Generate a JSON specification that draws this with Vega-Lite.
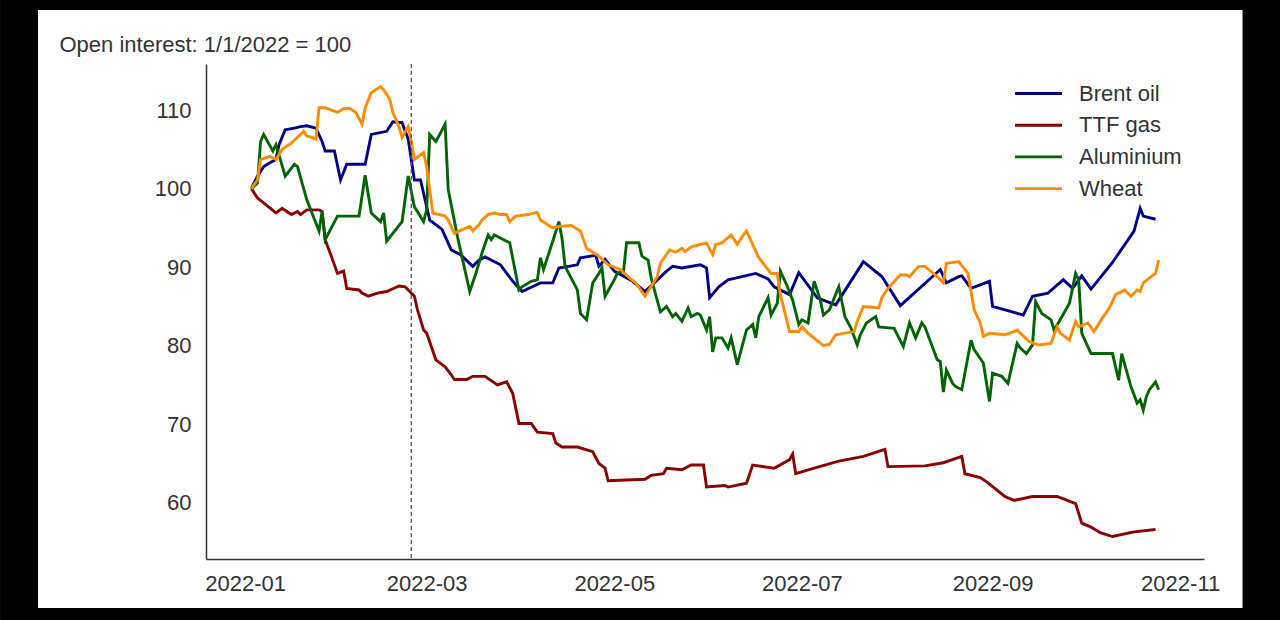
{
  "$schema": "https://vega.github.io/schema/vega-lite/v6.json",
  "width": 998,
  "height": 495,
  "autosize": {"type": "none"},
  "padding": {"left": 206, "top": 64, "right": 76, "bottom": 61},
  "background": "white",
  "config": {
    "view": {"stroke": null},
    "axis": {"grid": false, "ticks": false, "tickSize": 0, "domainColor": "#333333", "domainWidth": 1.5, "labelFont": "Liberation Sans", "labelFontSize": 22, "labelColor": "#333333", "titleFont": "Liberation Sans", "titleFontSize": 22, "titleColor": "#333333", "titleFontWeight": "normal"},
    "legend": {"labelFont": "Liberation Sans", "labelFontSize": 22, "labelColor": "#333333"}
  },
  "layer": [
    {
      "data": {"values": [
        {"date": "2022-01-03", "series": "Brent oil", "value": 100},
        {"date": "2022-01-05", "series": "Brent oil", "value": 101.6},
        {"date": "2022-01-07", "series": "Brent oil", "value": 102.8},
        {"date": "2022-01-09", "series": "Brent oil", "value": 103.3},
        {"date": "2022-01-11", "series": "Brent oil", "value": 103.7},
        {"date": "2022-01-12", "series": "Brent oil", "value": 105.6},
        {"date": "2022-01-14", "series": "Brent oil", "value": 107.5},
        {"date": "2022-01-17", "series": "Brent oil", "value": 107.7},
        {"date": "2022-01-19", "series": "Brent oil", "value": 107.9},
        {"date": "2022-01-21", "series": "Brent oil", "value": 108.0},
        {"date": "2022-01-24", "series": "Brent oil", "value": 107.7},
        {"date": "2022-01-26", "series": "Brent oil", "value": 106.0},
        {"date": "2022-01-27", "series": "Brent oil", "value": 104.8},
        {"date": "2022-01-30", "series": "Brent oil", "value": 104.8},
        {"date": "2022-02-01", "series": "Brent oil", "value": 101.1},
        {"date": "2022-02-03", "series": "Brent oil", "value": 103.1},
        {"date": "2022-02-06", "series": "Brent oil", "value": 103.1},
        {"date": "2022-02-09", "series": "Brent oil", "value": 103.1},
        {"date": "2022-02-11", "series": "Brent oil", "value": 106.9},
        {"date": "2022-02-16", "series": "Brent oil", "value": 107.3},
        {"date": "2022-02-18", "series": "Brent oil", "value": 108.5},
        {"date": "2022-02-21", "series": "Brent oil", "value": 108.4},
        {"date": "2022-02-23", "series": "Brent oil", "value": 106.3},
        {"date": "2022-02-24", "series": "Brent oil", "value": 103.7},
        {"date": "2022-02-25", "series": "Brent oil", "value": 101.1},
        {"date": "2022-02-27", "series": "Brent oil", "value": 101.1},
        {"date": "2022-03-02", "series": "Brent oil", "value": 96.0},
        {"date": "2022-03-06", "series": "Brent oil", "value": 94.8},
        {"date": "2022-03-09", "series": "Brent oil", "value": 92.2},
        {"date": "2022-03-12", "series": "Brent oil", "value": 91.6},
        {"date": "2022-03-16", "series": "Brent oil", "value": 90.1},
        {"date": "2022-03-18", "series": "Brent oil", "value": 90.9},
        {"date": "2022-03-20", "series": "Brent oil", "value": 91.3},
        {"date": "2022-03-25", "series": "Brent oil", "value": 90.3},
        {"date": "2022-03-29", "series": "Brent oil", "value": 88.2},
        {"date": "2022-04-01", "series": "Brent oil", "value": 86.9},
        {"date": "2022-04-07", "series": "Brent oil", "value": 88.0},
        {"date": "2022-04-11", "series": "Brent oil", "value": 88.0},
        {"date": "2022-04-13", "series": "Brent oil", "value": 89.9},
        {"date": "2022-04-19", "series": "Brent oil", "value": 90.3},
        {"date": "2022-04-20", "series": "Brent oil", "value": 91.2},
        {"date": "2022-04-25", "series": "Brent oil", "value": 91.5},
        {"date": "2022-04-26", "series": "Brent oil", "value": 90.1},
        {"date": "2022-04-28", "series": "Brent oil", "value": 91.0},
        {"date": "2022-05-01", "series": "Brent oil", "value": 89.5},
        {"date": "2022-05-07", "series": "Brent oil", "value": 88.2},
        {"date": "2022-05-11", "series": "Brent oil", "value": 86.9},
        {"date": "2022-05-18", "series": "Brent oil", "value": 89.5},
        {"date": "2022-05-20", "series": "Brent oil", "value": 90.1},
        {"date": "2022-05-23", "series": "Brent oil", "value": 89.9},
        {"date": "2022-05-29", "series": "Brent oil", "value": 90.3},
        {"date": "2022-05-31", "series": "Brent oil", "value": 89.9},
        {"date": "2022-06-01", "series": "Brent oil", "value": 86.1},
        {"date": "2022-06-04", "series": "Brent oil", "value": 87.5},
        {"date": "2022-06-07", "series": "Brent oil", "value": 88.4},
        {"date": "2022-06-16", "series": "Brent oil", "value": 89.2},
        {"date": "2022-06-20", "series": "Brent oil", "value": 88.5},
        {"date": "2022-06-22", "series": "Brent oil", "value": 87.5},
        {"date": "2022-06-27", "series": "Brent oil", "value": 86.5},
        {"date": "2022-06-30", "series": "Brent oil", "value": 89.3},
        {"date": "2022-07-06", "series": "Brent oil", "value": 86.1},
        {"date": "2022-07-12", "series": "Brent oil", "value": 85.2},
        {"date": "2022-07-21", "series": "Brent oil", "value": 90.7},
        {"date": "2022-07-27", "series": "Brent oil", "value": 88.8},
        {"date": "2022-08-02", "series": "Brent oil", "value": 85.1},
        {"date": "2022-08-15", "series": "Brent oil", "value": 89.7},
        {"date": "2022-08-17", "series": "Brent oil", "value": 88.0},
        {"date": "2022-08-21", "series": "Brent oil", "value": 88.8},
        {"date": "2022-08-22", "series": "Brent oil", "value": 88.9},
        {"date": "2022-08-25", "series": "Brent oil", "value": 87.3},
        {"date": "2022-08-31", "series": "Brent oil", "value": 88.2},
        {"date": "2022-09-01", "series": "Brent oil", "value": 85.0},
        {"date": "2022-09-11", "series": "Brent oil", "value": 83.9},
        {"date": "2022-09-14", "series": "Brent oil", "value": 86.3},
        {"date": "2022-09-19", "series": "Brent oil", "value": 86.7},
        {"date": "2022-09-24", "series": "Brent oil", "value": 88.4},
        {"date": "2022-09-27", "series": "Brent oil", "value": 87.3},
        {"date": "2022-09-30", "series": "Brent oil", "value": 88.9},
        {"date": "2022-10-03", "series": "Brent oil", "value": 87.2},
        {"date": "2022-10-10", "series": "Brent oil", "value": 90.6},
        {"date": "2022-10-17", "series": "Brent oil", "value": 94.6},
        {"date": "2022-10-19", "series": "Brent oil", "value": 97.5},
        {"date": "2022-10-20", "series": "Brent oil", "value": 96.5},
        {"date": "2022-10-24", "series": "Brent oil", "value": 96.1},

        {"date": "2022-01-03", "series": "TTF gas", "value": 100},
        {"date": "2022-01-05", "series": "TTF gas", "value": 98.8},
        {"date": "2022-01-07", "series": "TTF gas", "value": 98.2},
        {"date": "2022-01-11", "series": "TTF gas", "value": 96.9},
        {"date": "2022-01-13", "series": "TTF gas", "value": 97.5},
        {"date": "2022-01-16", "series": "TTF gas", "value": 96.7},
        {"date": "2022-01-18", "series": "TTF gas", "value": 97.1},
        {"date": "2022-01-19", "series": "TTF gas", "value": 96.7},
        {"date": "2022-01-21", "series": "TTF gas", "value": 97.3},
        {"date": "2022-01-25", "series": "TTF gas", "value": 97.3},
        {"date": "2022-01-26", "series": "TTF gas", "value": 97.1},
        {"date": "2022-01-27", "series": "TTF gas", "value": 93.5},
        {"date": "2022-01-29", "series": "TTF gas", "value": 91.4},
        {"date": "2022-01-31", "series": "TTF gas", "value": 89.2},
        {"date": "2022-02-02", "series": "TTF gas", "value": 89.5},
        {"date": "2022-02-03", "series": "TTF gas", "value": 87.3},
        {"date": "2022-02-07", "series": "TTF gas", "value": 87.1},
        {"date": "2022-02-08", "series": "TTF gas", "value": 86.7},
        {"date": "2022-02-10", "series": "TTF gas", "value": 86.3},
        {"date": "2022-02-13", "series": "TTF gas", "value": 86.7},
        {"date": "2022-02-16", "series": "TTF gas", "value": 86.9},
        {"date": "2022-02-20", "series": "TTF gas", "value": 87.6},
        {"date": "2022-02-22", "series": "TTF gas", "value": 87.5},
        {"date": "2022-02-23", "series": "TTF gas", "value": 87.1},
        {"date": "2022-02-25", "series": "TTF gas", "value": 86.3},
        {"date": "2022-02-26", "series": "TTF gas", "value": 84.6},
        {"date": "2022-02-28", "series": "TTF gas", "value": 82.0},
        {"date": "2022-03-01", "series": "TTF gas", "value": 81.6},
        {"date": "2022-03-04", "series": "TTF gas", "value": 78.2},
        {"date": "2022-03-07", "series": "TTF gas", "value": 77.3},
        {"date": "2022-03-09", "series": "TTF gas", "value": 76.3},
        {"date": "2022-03-10", "series": "TTF gas", "value": 75.7},
        {"date": "2022-03-14", "series": "TTF gas", "value": 75.7},
        {"date": "2022-03-16", "series": "TTF gas", "value": 76.1},
        {"date": "2022-03-20", "series": "TTF gas", "value": 76.1},
        {"date": "2022-03-24", "series": "TTF gas", "value": 75.0},
        {"date": "2022-03-27", "series": "TTF gas", "value": 75.4},
        {"date": "2022-03-29", "series": "TTF gas", "value": 73.9},
        {"date": "2022-03-31", "series": "TTF gas", "value": 70.1},
        {"date": "2022-04-04", "series": "TTF gas", "value": 70.1},
        {"date": "2022-04-06", "series": "TTF gas", "value": 69.0},
        {"date": "2022-04-11", "series": "TTF gas", "value": 68.8},
        {"date": "2022-04-12", "series": "TTF gas", "value": 67.6},
        {"date": "2022-04-14", "series": "TTF gas", "value": 67.1},
        {"date": "2022-04-19", "series": "TTF gas", "value": 67.1},
        {"date": "2022-04-24", "series": "TTF gas", "value": 66.5},
        {"date": "2022-04-26", "series": "TTF gas", "value": 65.0},
        {"date": "2022-04-28", "series": "TTF gas", "value": 64.4},
        {"date": "2022-04-29", "series": "TTF gas", "value": 62.8},
        {"date": "2022-05-11", "series": "TTF gas", "value": 63.0},
        {"date": "2022-05-13", "series": "TTF gas", "value": 63.5},
        {"date": "2022-05-17", "series": "TTF gas", "value": 63.7},
        {"date": "2022-05-18", "series": "TTF gas", "value": 64.4},
        {"date": "2022-05-23", "series": "TTF gas", "value": 64.2},
        {"date": "2022-05-26", "series": "TTF gas", "value": 64.8},
        {"date": "2022-05-30", "series": "TTF gas", "value": 64.8},
        {"date": "2022-05-31", "series": "TTF gas", "value": 62.0},
        {"date": "2022-06-06", "series": "TTF gas", "value": 62.2},
        {"date": "2022-06-07", "series": "TTF gas", "value": 62.0},
        {"date": "2022-06-13", "series": "TTF gas", "value": 62.5},
        {"date": "2022-06-15", "series": "TTF gas", "value": 64.8},
        {"date": "2022-06-22", "series": "TTF gas", "value": 64.4},
        {"date": "2022-06-27", "series": "TTF gas", "value": 65.5},
        {"date": "2022-06-28", "series": "TTF gas", "value": 66.2},
        {"date": "2022-06-29", "series": "TTF gas", "value": 63.7},
        {"date": "2022-07-05", "series": "TTF gas", "value": 64.4},
        {"date": "2022-07-13", "series": "TTF gas", "value": 65.3},
        {"date": "2022-07-21", "series": "TTF gas", "value": 65.9},
        {"date": "2022-07-28", "series": "TTF gas", "value": 66.8},
        {"date": "2022-07-29", "series": "TTF gas", "value": 64.6},
        {"date": "2022-08-10", "series": "TTF gas", "value": 64.7},
        {"date": "2022-08-16", "series": "TTF gas", "value": 65.1},
        {"date": "2022-08-22", "series": "TTF gas", "value": 65.9},
        {"date": "2022-08-23", "series": "TTF gas", "value": 63.7},
        {"date": "2022-08-28", "series": "TTF gas", "value": 63.2},
        {"date": "2022-08-30", "series": "TTF gas", "value": 62.7},
        {"date": "2022-09-05", "series": "TTF gas", "value": 60.8},
        {"date": "2022-09-08", "series": "TTF gas", "value": 60.3},
        {"date": "2022-09-14", "series": "TTF gas", "value": 60.8},
        {"date": "2022-09-22", "series": "TTF gas", "value": 60.8},
        {"date": "2022-09-28", "series": "TTF gas", "value": 59.9},
        {"date": "2022-09-30", "series": "TTF gas", "value": 57.4},
        {"date": "2022-10-03", "series": "TTF gas", "value": 56.9},
        {"date": "2022-10-06", "series": "TTF gas", "value": 56.2},
        {"date": "2022-10-10", "series": "TTF gas", "value": 55.7},
        {"date": "2022-10-17", "series": "TTF gas", "value": 56.3},
        {"date": "2022-10-24", "series": "TTF gas", "value": 56.6},

        {"date": "2022-01-03", "series": "Aluminium", "value": 100},
        {"date": "2022-01-05", "series": "Aluminium", "value": 100.7},
        {"date": "2022-01-06", "series": "Aluminium", "value": 106.0},
        {"date": "2022-01-07", "series": "Aluminium", "value": 106.9},
        {"date": "2022-01-10", "series": "Aluminium", "value": 104.8},
        {"date": "2022-01-11", "series": "Aluminium", "value": 105.6},
        {"date": "2022-01-14", "series": "Aluminium", "value": 101.6},
        {"date": "2022-01-17", "series": "Aluminium", "value": 103.1},
        {"date": "2022-01-18", "series": "Aluminium", "value": 102.8},
        {"date": "2022-01-21", "series": "Aluminium", "value": 98.6},
        {"date": "2022-01-25", "series": "Aluminium", "value": 94.6},
        {"date": "2022-01-26", "series": "Aluminium", "value": 97.1},
        {"date": "2022-01-27", "series": "Aluminium", "value": 93.5},
        {"date": "2022-01-31", "series": "Aluminium", "value": 96.5},
        {"date": "2022-02-07", "series": "Aluminium", "value": 96.5},
        {"date": "2022-02-09", "series": "Aluminium", "value": 101.7},
        {"date": "2022-02-11", "series": "Aluminium", "value": 96.9},
        {"date": "2022-02-14", "series": "Aluminium", "value": 95.8},
        {"date": "2022-02-15", "series": "Aluminium", "value": 96.9},
        {"date": "2022-02-16", "series": "Aluminium", "value": 93.3},
        {"date": "2022-02-21", "series": "Aluminium", "value": 95.8},
        {"date": "2022-02-23", "series": "Aluminium", "value": 101.6},
        {"date": "2022-02-25", "series": "Aluminium", "value": 97.7},
        {"date": "2022-02-28", "series": "Aluminium", "value": 95.8},
        {"date": "2022-03-01", "series": "Aluminium", "value": 97.3},
        {"date": "2022-03-02", "series": "Aluminium", "value": 106.9},
        {"date": "2022-03-04", "series": "Aluminium", "value": 106.0},
        {"date": "2022-03-07", "series": "Aluminium", "value": 108.2},
        {"date": "2022-03-08", "series": "Aluminium", "value": 99.9},
        {"date": "2022-03-11", "series": "Aluminium", "value": 93.9},
        {"date": "2022-03-15", "series": "Aluminium", "value": 86.9},
        {"date": "2022-03-17", "series": "Aluminium", "value": 89.2},
        {"date": "2022-03-19", "series": "Aluminium", "value": 91.8},
        {"date": "2022-03-21", "series": "Aluminium", "value": 94.1},
        {"date": "2022-03-22", "series": "Aluminium", "value": 93.5},
        {"date": "2022-03-23", "series": "Aluminium", "value": 94.1},
        {"date": "2022-03-27", "series": "Aluminium", "value": 93.3},
        {"date": "2022-03-28", "series": "Aluminium", "value": 93.1},
        {"date": "2022-03-31", "series": "Aluminium", "value": 87.1},
        {"date": "2022-04-01", "series": "Aluminium", "value": 87.5},
        {"date": "2022-04-04", "series": "Aluminium", "value": 88.2},
        {"date": "2022-04-06", "series": "Aluminium", "value": 88.4},
        {"date": "2022-04-07", "series": "Aluminium", "value": 91.2},
        {"date": "2022-04-08", "series": "Aluminium", "value": 89.7},
        {"date": "2022-04-09", "series": "Aluminium", "value": 90.9},
        {"date": "2022-04-11", "series": "Aluminium", "value": 93.3},
        {"date": "2022-04-13", "series": "Aluminium", "value": 95.8},
        {"date": "2022-04-14", "series": "Aluminium", "value": 93.7},
        {"date": "2022-04-15", "series": "Aluminium", "value": 90.1},
        {"date": "2022-04-19", "series": "Aluminium", "value": 87.1},
        {"date": "2022-04-20", "series": "Aluminium", "value": 84.1},
        {"date": "2022-04-22", "series": "Aluminium", "value": 83.3},
        {"date": "2022-04-24", "series": "Aluminium", "value": 88.0},
        {"date": "2022-04-26", "series": "Aluminium", "value": 89.2},
        {"date": "2022-04-27", "series": "Aluminium", "value": 89.9},
        {"date": "2022-04-28", "series": "Aluminium", "value": 86.3},
        {"date": "2022-05-01", "series": "Aluminium", "value": 88.4},
        {"date": "2022-05-02", "series": "Aluminium", "value": 89.2},
        {"date": "2022-05-04", "series": "Aluminium", "value": 89.5},
        {"date": "2022-05-05", "series": "Aluminium", "value": 93.1},
        {"date": "2022-05-09", "series": "Aluminium", "value": 93.1},
        {"date": "2022-05-10", "series": "Aluminium", "value": 91.4},
        {"date": "2022-05-12", "series": "Aluminium", "value": 90.9},
        {"date": "2022-05-13", "series": "Aluminium", "value": 88.6},
        {"date": "2022-05-16", "series": "Aluminium", "value": 84.3},
        {"date": "2022-05-18", "series": "Aluminium", "value": 85.0},
        {"date": "2022-05-20", "series": "Aluminium", "value": 83.7},
        {"date": "2022-05-21", "series": "Aluminium", "value": 84.1},
        {"date": "2022-05-23", "series": "Aluminium", "value": 83.1},
        {"date": "2022-05-25", "series": "Aluminium", "value": 84.8},
        {"date": "2022-05-26", "series": "Aluminium", "value": 83.7},
        {"date": "2022-05-28", "series": "Aluminium", "value": 84.1},
        {"date": "2022-05-29", "series": "Aluminium", "value": 83.9},
        {"date": "2022-05-31", "series": "Aluminium", "value": 82.0},
        {"date": "2022-06-01", "series": "Aluminium", "value": 83.7},
        {"date": "2022-06-02", "series": "Aluminium", "value": 79.2},
        {"date": "2022-06-03", "series": "Aluminium", "value": 81.0},
        {"date": "2022-06-05", "series": "Aluminium", "value": 81.0},
        {"date": "2022-06-07", "series": "Aluminium", "value": 79.7},
        {"date": "2022-06-08", "series": "Aluminium", "value": 81.0},
        {"date": "2022-06-10", "series": "Aluminium", "value": 77.6},
        {"date": "2022-06-13", "series": "Aluminium", "value": 82.0},
        {"date": "2022-06-15", "series": "Aluminium", "value": 82.7},
        {"date": "2022-06-16", "series": "Aluminium", "value": 81.0},
        {"date": "2022-06-17", "series": "Aluminium", "value": 83.7},
        {"date": "2022-06-20", "series": "Aluminium", "value": 86.1},
        {"date": "2022-06-21", "series": "Aluminium", "value": 83.9},
        {"date": "2022-06-23", "series": "Aluminium", "value": 85.4},
        {"date": "2022-06-24", "series": "Aluminium", "value": 89.5},
        {"date": "2022-06-26", "series": "Aluminium", "value": 87.8},
        {"date": "2022-06-28", "series": "Aluminium", "value": 85.8},
        {"date": "2022-06-30", "series": "Aluminium", "value": 82.7},
        {"date": "2022-07-01", "series": "Aluminium", "value": 83.3},
        {"date": "2022-07-03", "series": "Aluminium", "value": 82.9},
        {"date": "2022-07-05", "series": "Aluminium", "value": 88.2},
        {"date": "2022-07-07", "series": "Aluminium", "value": 85.8},
        {"date": "2022-07-08", "series": "Aluminium", "value": 83.9},
        {"date": "2022-07-10", "series": "Aluminium", "value": 84.6},
        {"date": "2022-07-13", "series": "Aluminium", "value": 87.5},
        {"date": "2022-07-14", "series": "Aluminium", "value": 85.6},
        {"date": "2022-07-15", "series": "Aluminium", "value": 83.7},
        {"date": "2022-07-17", "series": "Aluminium", "value": 82.2},
        {"date": "2022-07-19", "series": "Aluminium", "value": 80.1},
        {"date": "2022-07-20", "series": "Aluminium", "value": 81.4},
        {"date": "2022-07-22", "series": "Aluminium", "value": 82.9},
        {"date": "2022-07-25", "series": "Aluminium", "value": 83.7},
        {"date": "2022-07-26", "series": "Aluminium", "value": 82.4},
        {"date": "2022-07-31", "series": "Aluminium", "value": 82.2},
        {"date": "2022-08-01", "series": "Aluminium", "value": 81.4},
        {"date": "2022-08-03", "series": "Aluminium", "value": 79.9},
        {"date": "2022-08-05", "series": "Aluminium", "value": 82.9},
        {"date": "2022-08-07", "series": "Aluminium", "value": 81.0},
        {"date": "2022-08-09", "series": "Aluminium", "value": 82.9},
        {"date": "2022-08-10", "series": "Aluminium", "value": 82.4},
        {"date": "2022-08-14", "series": "Aluminium", "value": 78.2},
        {"date": "2022-08-15", "series": "Aluminium", "value": 78.0},
        {"date": "2022-08-16", "series": "Aluminium", "value": 74.1},
        {"date": "2022-08-17", "series": "Aluminium", "value": 76.9},
        {"date": "2022-08-19", "series": "Aluminium", "value": 75.2},
        {"date": "2022-08-20", "series": "Aluminium", "value": 74.8},
        {"date": "2022-08-22", "series": "Aluminium", "value": 74.4},
        {"date": "2022-08-25", "series": "Aluminium", "value": 80.7},
        {"date": "2022-08-26", "series": "Aluminium", "value": 79.5},
        {"date": "2022-08-29", "series": "Aluminium", "value": 77.8},
        {"date": "2022-08-31", "series": "Aluminium", "value": 72.9},
        {"date": "2022-09-01", "series": "Aluminium", "value": 76.5},
        {"date": "2022-09-04", "series": "Aluminium", "value": 76.1},
        {"date": "2022-09-06", "series": "Aluminium", "value": 75.2},
        {"date": "2022-09-09", "series": "Aluminium", "value": 80.3},
        {"date": "2022-09-10", "series": "Aluminium", "value": 79.7},
        {"date": "2022-09-12", "series": "Aluminium", "value": 79.0},
        {"date": "2022-09-14", "series": "Aluminium", "value": 80.1},
        {"date": "2022-09-15", "series": "Aluminium", "value": 85.6},
        {"date": "2022-09-17", "series": "Aluminium", "value": 84.1},
        {"date": "2022-09-20", "series": "Aluminium", "value": 83.3},
        {"date": "2022-09-21", "series": "Aluminium", "value": 82.0},
        {"date": "2022-09-23", "series": "Aluminium", "value": 83.3},
        {"date": "2022-09-26", "series": "Aluminium", "value": 85.4},
        {"date": "2022-09-28", "series": "Aluminium", "value": 89.2},
        {"date": "2022-09-29", "series": "Aluminium", "value": 88.4},
        {"date": "2022-09-30", "series": "Aluminium", "value": 81.6},
        {"date": "2022-10-03", "series": "Aluminium", "value": 79.0},
        {"date": "2022-10-10", "series": "Aluminium", "value": 79.0},
        {"date": "2022-10-12", "series": "Aluminium", "value": 75.6},
        {"date": "2022-10-13", "series": "Aluminium", "value": 79.0},
        {"date": "2022-10-16", "series": "Aluminium", "value": 74.8},
        {"date": "2022-10-18", "series": "Aluminium", "value": 72.7},
        {"date": "2022-10-19", "series": "Aluminium", "value": 73.1},
        {"date": "2022-10-20", "series": "Aluminium", "value": 71.8},
        {"date": "2022-10-21", "series": "Aluminium", "value": 73.5},
        {"date": "2022-10-22", "series": "Aluminium", "value": 74.4},
        {"date": "2022-10-24", "series": "Aluminium", "value": 75.4},
        {"date": "2022-10-25", "series": "Aluminium", "value": 74.4},

        {"date": "2022-01-03", "series": "Wheat", "value": 100},
        {"date": "2022-01-05", "series": "Wheat", "value": 101.1},
        {"date": "2022-01-06", "series": "Wheat", "value": 103.7},
        {"date": "2022-01-09", "series": "Wheat", "value": 104.1},
        {"date": "2022-01-11", "series": "Wheat", "value": 103.7},
        {"date": "2022-01-13", "series": "Wheat", "value": 105.0},
        {"date": "2022-01-16", "series": "Wheat", "value": 105.8},
        {"date": "2022-01-19", "series": "Wheat", "value": 106.9},
        {"date": "2022-01-20", "series": "Wheat", "value": 107.3},
        {"date": "2022-01-21", "series": "Wheat", "value": 106.7},
        {"date": "2022-01-23", "series": "Wheat", "value": 106.5},
        {"date": "2022-01-24", "series": "Wheat", "value": 106.3},
        {"date": "2022-01-25", "series": "Wheat", "value": 110.3},
        {"date": "2022-01-27", "series": "Wheat", "value": 110.3},
        {"date": "2022-01-31", "series": "Wheat", "value": 109.7},
        {"date": "2022-02-02", "series": "Wheat", "value": 110.2},
        {"date": "2022-02-04", "series": "Wheat", "value": 110.2},
        {"date": "2022-02-06", "series": "Wheat", "value": 109.7},
        {"date": "2022-02-08", "series": "Wheat", "value": 108.2},
        {"date": "2022-02-09", "series": "Wheat", "value": 110.3},
        {"date": "2022-02-11", "series": "Wheat", "value": 112.2},
        {"date": "2022-02-14", "series": "Wheat", "value": 113.0},
        {"date": "2022-02-15", "series": "Wheat", "value": 112.6},
        {"date": "2022-02-17", "series": "Wheat", "value": 111.4},
        {"date": "2022-02-18", "series": "Wheat", "value": 109.7},
        {"date": "2022-02-20", "series": "Wheat", "value": 107.9},
        {"date": "2022-02-21", "series": "Wheat", "value": 106.5},
        {"date": "2022-02-23", "series": "Wheat", "value": 107.9},
        {"date": "2022-02-24", "series": "Wheat", "value": 106.0},
        {"date": "2022-02-25", "series": "Wheat", "value": 103.7},
        {"date": "2022-02-28", "series": "Wheat", "value": 104.6},
        {"date": "2022-03-01", "series": "Wheat", "value": 102.8},
        {"date": "2022-03-03", "series": "Wheat", "value": 96.9},
        {"date": "2022-03-07", "series": "Wheat", "value": 96.5},
        {"date": "2022-03-08", "series": "Wheat", "value": 96.0},
        {"date": "2022-03-10", "series": "Wheat", "value": 94.3},
        {"date": "2022-03-15", "series": "Wheat", "value": 95.2},
        {"date": "2022-03-16", "series": "Wheat", "value": 94.6},
        {"date": "2022-03-18", "series": "Wheat", "value": 95.4},
        {"date": "2022-03-19", "series": "Wheat", "value": 96.0},
        {"date": "2022-03-21", "series": "Wheat", "value": 96.7},
        {"date": "2022-03-23", "series": "Wheat", "value": 96.9},
        {"date": "2022-03-25", "series": "Wheat", "value": 96.7},
        {"date": "2022-03-27", "series": "Wheat", "value": 96.7},
        {"date": "2022-03-28", "series": "Wheat", "value": 95.8},
        {"date": "2022-03-30", "series": "Wheat", "value": 96.5},
        {"date": "2022-04-03", "series": "Wheat", "value": 96.7},
        {"date": "2022-04-06", "series": "Wheat", "value": 97.0},
        {"date": "2022-04-07", "series": "Wheat", "value": 96.0},
        {"date": "2022-04-11", "series": "Wheat", "value": 95.0},
        {"date": "2022-04-13", "series": "Wheat", "value": 95.2},
        {"date": "2022-04-17", "series": "Wheat", "value": 95.3},
        {"date": "2022-04-20", "series": "Wheat", "value": 94.6},
        {"date": "2022-04-22", "series": "Wheat", "value": 92.4},
        {"date": "2022-04-26", "series": "Wheat", "value": 91.4},
        {"date": "2022-04-29", "series": "Wheat", "value": 90.3},
        {"date": "2022-05-03", "series": "Wheat", "value": 89.7},
        {"date": "2022-05-06", "series": "Wheat", "value": 88.6},
        {"date": "2022-05-08", "series": "Wheat", "value": 88.0},
        {"date": "2022-05-11", "series": "Wheat", "value": 86.3},
        {"date": "2022-05-15", "series": "Wheat", "value": 88.8},
        {"date": "2022-05-16", "series": "Wheat", "value": 90.5},
        {"date": "2022-05-19", "series": "Wheat", "value": 92.2},
        {"date": "2022-05-21", "series": "Wheat", "value": 91.9},
        {"date": "2022-05-23", "series": "Wheat", "value": 92.4},
        {"date": "2022-05-24", "series": "Wheat", "value": 92.0},
        {"date": "2022-05-26", "series": "Wheat", "value": 92.6},
        {"date": "2022-05-31", "series": "Wheat", "value": 93.1},
        {"date": "2022-06-02", "series": "Wheat", "value": 91.6},
        {"date": "2022-06-03", "series": "Wheat", "value": 92.9},
        {"date": "2022-06-05", "series": "Wheat", "value": 93.1},
        {"date": "2022-06-08", "series": "Wheat", "value": 94.1},
        {"date": "2022-06-10", "series": "Wheat", "value": 92.9},
        {"date": "2022-06-12", "series": "Wheat", "value": 94.1},
        {"date": "2022-06-13", "series": "Wheat", "value": 94.6},
        {"date": "2022-06-17", "series": "Wheat", "value": 91.2},
        {"date": "2022-06-21", "series": "Wheat", "value": 89.2},
        {"date": "2022-06-23", "series": "Wheat", "value": 89.2},
        {"date": "2022-06-24", "series": "Wheat", "value": 86.5},
        {"date": "2022-06-27", "series": "Wheat", "value": 81.8},
        {"date": "2022-06-30", "series": "Wheat", "value": 81.8},
        {"date": "2022-07-01", "series": "Wheat", "value": 82.4},
        {"date": "2022-07-03", "series": "Wheat", "value": 81.6},
        {"date": "2022-07-08", "series": "Wheat", "value": 80.0},
        {"date": "2022-07-10", "series": "Wheat", "value": 80.2},
        {"date": "2022-07-12", "series": "Wheat", "value": 81.4},
        {"date": "2022-07-18", "series": "Wheat", "value": 81.8},
        {"date": "2022-07-19", "series": "Wheat", "value": 83.1},
        {"date": "2022-07-21", "series": "Wheat", "value": 85.0},
        {"date": "2022-07-24", "series": "Wheat", "value": 84.9},
        {"date": "2022-07-26", "series": "Wheat", "value": 84.8},
        {"date": "2022-07-27", "series": "Wheat", "value": 86.1},
        {"date": "2022-07-29", "series": "Wheat", "value": 87.3},
        {"date": "2022-08-02", "series": "Wheat", "value": 89.0},
        {"date": "2022-08-04", "series": "Wheat", "value": 89.0},
        {"date": "2022-08-05", "series": "Wheat", "value": 88.8},
        {"date": "2022-08-08", "series": "Wheat", "value": 90.1},
        {"date": "2022-08-10", "series": "Wheat", "value": 90.1},
        {"date": "2022-08-14", "series": "Wheat", "value": 88.8},
        {"date": "2022-08-16", "series": "Wheat", "value": 88.0},
        {"date": "2022-08-17", "series": "Wheat", "value": 90.5},
        {"date": "2022-08-21", "series": "Wheat", "value": 90.7},
        {"date": "2022-08-24", "series": "Wheat", "value": 89.2},
        {"date": "2022-08-26", "series": "Wheat", "value": 84.6},
        {"date": "2022-08-28", "series": "Wheat", "value": 82.9},
        {"date": "2022-08-29", "series": "Wheat", "value": 81.2},
        {"date": "2022-08-31", "series": "Wheat", "value": 81.6},
        {"date": "2022-09-05", "series": "Wheat", "value": 81.4},
        {"date": "2022-09-08", "series": "Wheat", "value": 81.8},
        {"date": "2022-09-09", "series": "Wheat", "value": 82.0},
        {"date": "2022-09-10", "series": "Wheat", "value": 81.6},
        {"date": "2022-09-13", "series": "Wheat", "value": 80.5},
        {"date": "2022-09-16", "series": "Wheat", "value": 80.1},
        {"date": "2022-09-20", "series": "Wheat", "value": 80.3},
        {"date": "2022-09-22", "series": "Wheat", "value": 82.4},
        {"date": "2022-09-23", "series": "Wheat", "value": 81.6},
        {"date": "2022-09-26", "series": "Wheat", "value": 80.7},
        {"date": "2022-09-28", "series": "Wheat", "value": 83.1},
        {"date": "2022-09-29", "series": "Wheat", "value": 82.4},
        {"date": "2022-10-02", "series": "Wheat", "value": 82.9},
        {"date": "2022-10-04", "series": "Wheat", "value": 81.8},
        {"date": "2022-10-07", "series": "Wheat", "value": 83.7},
        {"date": "2022-10-09", "series": "Wheat", "value": 84.8},
        {"date": "2022-10-11", "series": "Wheat", "value": 86.5},
        {"date": "2022-10-14", "series": "Wheat", "value": 87.1},
        {"date": "2022-10-16", "series": "Wheat", "value": 86.3},
        {"date": "2022-10-18", "series": "Wheat", "value": 87.1},
        {"date": "2022-10-19", "series": "Wheat", "value": 86.9},
        {"date": "2022-10-20", "series": "Wheat", "value": 88.0},
        {"date": "2022-10-24", "series": "Wheat", "value": 89.2},
        {"date": "2022-10-25", "series": "Wheat", "value": 90.9}
      ]},
      "mark": {"type": "line", "strokeWidth": 2.9, "interpolate": "linear"},
      "encoding": {
        "x": {"field": "date", "type": "temporal",
              "scale": {"type": "utc", "domain": [{"year": 2021, "month": 12, "date": 19, "hours": 6, "utc": true}, {"year": 2022, "month": 11, "date": 8, "hours": 18, "utc": true}]},
              "axis": {"title": null, "format": "%Y-%m", "tickCount": {"interval": "month", "step": 2}, "labelPadding": 14, "labelFlush": false, "labelOverlap": false}},
        "y": {"field": "value", "type": "quantitative",
              "scale": {"domain": [52.84, 115.87], "zero": false, "nice": false},
              "axis": {"values": [60, 70, 80, 90, 100, 110], "labelPadding": 15, "title": "Open interest: 1/1/2022 = 100", "titleAngle": 0, "titleAlign": "left", "titleBaseline": "alphabetic", "titleX": -147, "titleY": -13}},
        "color": {"field": "series", "type": "nominal",
                  "scale": {"domain": ["Brent oil", "TTF gas", "Aluminium", "Wheat"], "range": ["#00008B", "#8B0000", "#006400", "#FF8C00"]},
                  "legend": {"title": null, "orient": "none", "legendX": 819, "legendY": 16, "symbolType": "M-2,0H2", "symbolSize": 552, "symbolStrokeWidth": 2.9, "labelOffset": 27, "rowPadding": 6.7}}
      }
    },
    {
      "data": {"values": [{}]},
      "mark": {"type": "rule", "color": "#555555", "strokeDash": [4, 3], "strokeWidth": 1.3},
      "encoding": {
        "x": {"datum": {"year": 2022, "month": 2, "date": 24, "utc": true}, "type": "temporal"}
      }
    },
    {
      "data": {"values": [{}]},
      "mark": {"type": "rect", "filled": false, "color": "black", "strokeWidth": 38, "clip": false},
      "encoding": {
        "x": {"datum": {"year": 2021, "month": 10, "date": 19, "hours": 11, "utc": true}, "type": "temporal"},
        "x2": {"datum": {"year": 2022, "month": 11, "date": 27, "hours": 11, "utc": true}},
        "y": {"datum": 125.17, "type": "quantitative"},
        "y2": {"datum": 44.18}
      }
    }
  ]
}
